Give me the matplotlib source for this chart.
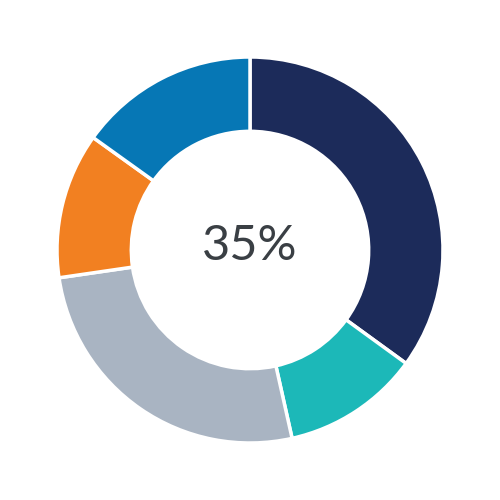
import matplotlib
matplotlib.use("Agg")
import matplotlib.pyplot as plt

valores = [35, 11.5, 26.2, 12.2, 15.1]
colores = ["#1c2b5a", "#1cb8b8", "#a9b4c2", "#f28021", "#0677b5"]
etiqueta_centro = "35%"

fig = plt.figure(figsize=(5, 5), dpi=100)
ax = fig.add_axes([0, 0, 1, 1])

ax.pie(valores, colors=colores, startangle=90, counterclock=False,
       radius=1, wedgeprops={"width": 0.385, "edgecolor": "white", "linewidth": 2.5})
ax.text(0, 0.02, etiqueta_centro, ha="center", va="center", fontsize=35,
        color="#3a3f44", family="Lato")

lim = 250 / 193
ax.set_xlim(-lim, lim)
ax.set_ylim(-lim, lim)
ax.set_aspect("equal")
ax.axis("off")

fig.savefig("out.png", dpi=100)
